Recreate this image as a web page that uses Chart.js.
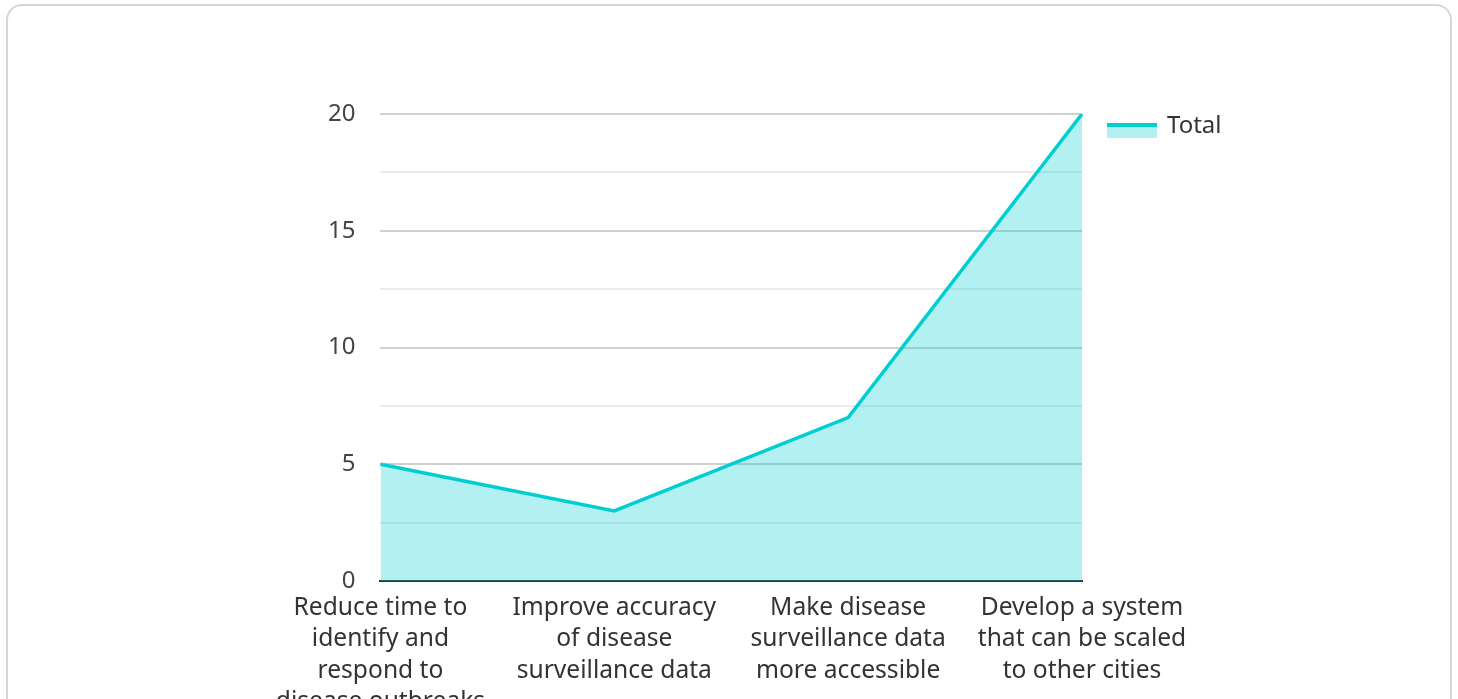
<!DOCTYPE html>
<html lang="en">
<head>
    <meta charset="UTF-8">
    <title>Total</title>
    <script src="https://cdn.jsdelivr.net/npm/chart.js"></script>
    <style>
        html, body {
            margin: 0;
            padding: 0;
            background: #fff;
            overflow: hidden;
            font-family: "Noto Sans", sans-serif;
        }
        .card {
            position: absolute;
            left: 6px;
            top: 4px;
            width: 1446px;
            height: 780px;
            box-sizing: border-box;
            border: 2px solid #d6d6d6;
            border-radius: 16px;
            background: #fff;
        }
        #chart {
            position: absolute;
            left: 0;
            top: 0;
        }
    </style>
</head>
<body>
    <div class="card">
        <canvas id="chart" width="1442" height="770"></canvas>
    </div>

    <script>
        // data
        const categories = [
            ['Reduce time to', 'identify and', 'respond to', 'disease outbreaks'],
            ['Improve accuracy', 'of disease', 'surveillance data'],
            ['Make disease', 'surveillance data', 'more accessible'],
            ['Develop a system', 'that can be scaled', 'to other cities']
        ];
        const totals = [5, 3, 7, 20];
        const yTicks = [0, 5, 10, 15, 20];

        const lineColor = '#00CED1';
        const fillColor = 'rgba(0, 206, 209, 0.3)';

        // legend drawn by hand: line on top of a filled box
        const sideLegend = {
            id: 'sideLegend',
            afterDraw(chart) {
                const ctx = chart.ctx;
                const area = chart.chartArea;
                const ds = chart.data.datasets[0];
                const x = area.right + 25;
                const y = area.top;
                ctx.save();
                ctx.fillStyle = ds.backgroundColor;
                ctx.fillRect(x, y + 9, 50, 15);
                ctx.strokeStyle = ds.borderColor;
                ctx.lineWidth = 4;
                ctx.beginPath();
                ctx.moveTo(x, y + 11);
                ctx.lineTo(x + 50, y + 11);
                ctx.stroke();
                ctx.fillStyle = '#333';
                ctx.font = '24px "Noto Sans"';
                ctx.textBaseline = 'middle';
                ctx.fillText(ds.label, x + 60, y + 12);
                ctx.restore();
            }
        };

        new Chart(document.getElementById('chart'), {
            type: 'line',
            data: {
                labels: categories,
                datasets: [{
                    label: 'Total',
                    data: totals,
                    borderColor: lineColor,
                    backgroundColor: fillColor,
                    borderWidth: 3.5,
                    pointRadius: 0,
                    tension: 0,
                    fill: 'origin'
                }]
            },
            options: {
                responsive: false,
                animation: false,
                layout: {
                    padding: { top: 108, left: 295, right: 368, bottom: 55 }
                },
                plugins: {
                    legend: { display: false },
                    tooltip: { enabled: false }
                },
                scales: {
                    x: {
                        offset: false,
                        grid: { display: false },
                        border: { color: '#333', width: 2 },
                        ticks: {
                            autoSkip: false,
                            maxRotation: 0,
                            padding: 3,
                            color: '#333',
                            font: { family: 'Noto Sans', size: 24.6, lineHeight: 1.28 }
                        }
                    },
                    y: {
                        min: 0,
                        max: 20,
                        border: { display: false },
                        grid: {
                            drawTicks: false,
                            lineWidth: 2,
                            color: (c) => yTicks.includes(c.tick.value) ? '#d0d0d0' : '#ebebeb'
                        },
                        ticks: {
                            stepSize: 2.5,
                            padding: 25,
                            color: '#444',
                            font: { family: 'Noto Sans', size: 24 },
                            callback: (v) => yTicks.includes(v) ? v : ''
                        }
                    }
                }
            },
            plugins: [sideLegend]
        });
    </script>
</body>
</html>
